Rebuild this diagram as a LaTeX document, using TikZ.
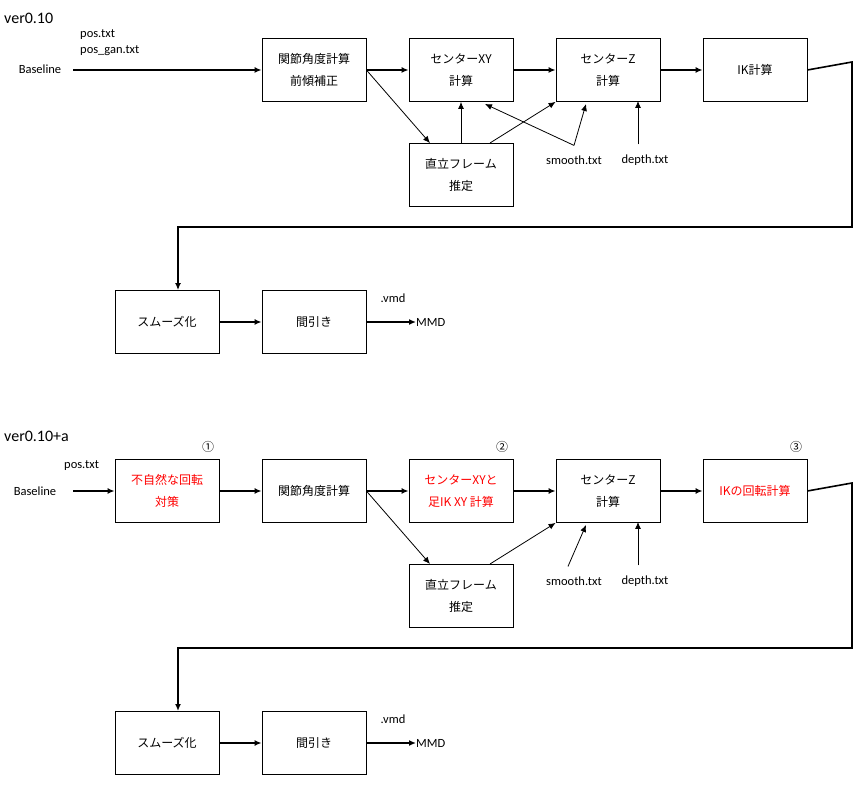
\documentclass[tikz,border=0pt]{standalone}
\usepackage{fontspec}
\setmainfont{Carlito}
\newfontfamily\cjk{Noto Sans CJK JP}
\usetikzlibrary{arrows.meta}
\begin{document}
\begin{tikzpicture}[x=1pt,y=-1pt,
 box/.style={draw,line width=0.8pt,minimum width=104pt,minimum height=63pt,align=center,font=\cjk\fontsize{12}{22}\selectfont,inner sep=0pt},
 red/.style={text={rgb,255:red,255;green,0;blue,0}},
 lbl/.style={font=\fontsize{12.5}{14}\selectfont,inner sep=0pt},
 th/.style={-{Latex[length=7pt,width=6pt]},line width=1.6pt},
 tn/.style={-{Latex[length=7pt,width=6pt]},line width=0.8pt}]
\useasboundingbox (0,0) rectangle (863,791);
\node[anchor=west,font=\fontsize{16}{18}\selectfont,inner sep=0pt] (t1) at (4,18) {ver0.10};
\node[lbl,anchor=west] (p1) at (80,35) {pos.txt};
\node[lbl,anchor=west] (p2) at (80,51) {pos\_gan.txt};
\node[lbl] (b1) at (40,69) {Baseline};
\coordinate (s1) at (73,70);
\node[box] (a1) at (314,70) {関節角度計算\\前傾補正};
\node[box] (a2) at (461,70) {センターXY\\計算};
\node[box] (a3) at (608,70) {センターZ\\計算};
\node[box] (a4) at (755,70) {IK計算};
\node[box] (a5) at (461,175) {直立フレーム\\推定};
\node[lbl] (sm) at (574,160) {smooth.txt};
\node[lbl] (dp) at (645,160) {depth.txt};
\node[box] (a6) at (167,322) {スムーズ化};
\node[box] (a7) at (314,322) {間引き};
\node[lbl] (v1) at (393,298) {.vmd};
\node[lbl,anchor=west] (m1) at (416,322) {MMD};
\draw[th] (s1) -- (a1.west);
\draw[th] (a1.east) -- (a2.west);
\draw[th] (a2.east) -- (a3.west);
\draw[th] (a3.east) -- (a4.west);
\draw[tn] (a1.east) -- (a5.north west -| 430,0);
\draw[tn] (a5.north) -- (a2.south);
\draw[tn] (490,143) -- (a3.south west);
\draw[tn] (sm.north) ++(0,-10) -- (485,104);
\draw[tn] (sm.north) ++(0,-10) -- (586,104);
\draw[tn] (dp.north) ++(-7,-10) -- (638,101);
\draw[th] (a4.east) -- (852,62) -- (852,227) -- (178,227) -- (a6.north -| 178,0);
\draw[th] (a6.east) -- (a7.west);
\draw[th] (a7.east) -- (m1.west);

\node[anchor=west,font=\fontsize{16}{18}\selectfont,inner sep=0pt] (t2) at (4,436) {ver0.10+a};
\node[lbl,anchor=west] (p3) at (64,466) {pos.txt};
\node[lbl] (b2) at (35,491) {Baseline};
\coordinate (s2) at (73,491);
\node[box,red] (c0) at (167,491) {不自然な回転\\対策};
\node[box] (c1) at (314,491) {関節角度計算};
\node[box,red] (c2) at (461,491) {センターXYと\\足IK XY 計算};
\node[box] (c3) at (608,491) {センターZ\\計算};
\node[box,red] (c4) at (755,491) {IKの回転計算};
\node[font=\cjk\fontsize{12}{14}\selectfont] (n1) at (208,447) {①};
\node[font=\cjk\fontsize{12}{14}\selectfont] (n2) at (502,447) {②};
\node[font=\cjk\fontsize{12}{14}\selectfont] (n3) at (796,447) {③};
\node[box] (c5) at (461,596) {直立フレーム\\推定};
\node[lbl] (sm2) at (574,581) {smooth.txt};
\node[lbl] (dp2) at (645,581) {depth.txt};
\node[box] (c6) at (167,743) {スムーズ化};
\node[box] (c7) at (314,743) {間引き};
\node[lbl] (v2) at (393,719) {.vmd};
\node[lbl,anchor=west] (m2) at (416,743) {MMD};
\draw[th] (s2) -- (c0.west);
\draw[th] (c0.east) -- (c1.west);
\draw[th] (c1.east) -- (c2.west);
\draw[th] (c2.east) -- (c3.west);
\draw[th] (c3.east) -- (c4.west);
\draw[tn] (c1.east) -- (430,564);
\draw[tn] (490,564) -- (c3.south west);
\draw[tn] (sm2.north) ++(-6,-10) -- (586,525);
\draw[tn] (dp2.north) ++(-7,-10) -- (638,522);
\draw[th] (c4.east) -- (852,483) -- (852,648) -- (178,648) -- (178,711);
\draw[th] (c6.east) -- (c7.west);
\draw[th] (c7.east) -- (m2.west);
\end{tikzpicture}
\end{document}
